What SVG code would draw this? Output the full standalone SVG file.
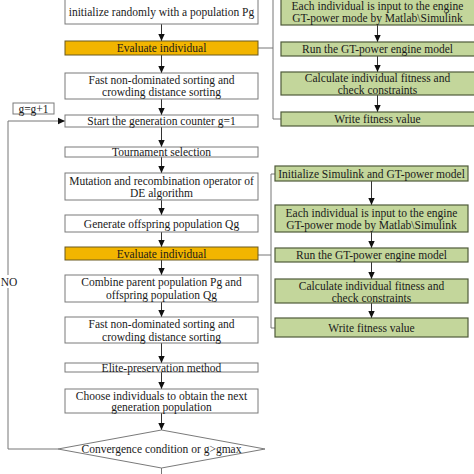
<svg xmlns="http://www.w3.org/2000/svg" width="474" height="474" viewBox="0 0 474 474">
  <style>
    .box { fill: #ffffff; stroke: #7a7a7a; stroke-width: 1; }
    .eval { fill: #f2b500; stroke: #6a5a20; stroke-width: 1; }
    .sub { fill: #c3d69b; stroke: #4f5a3a; stroke-width: 1.2; }
    text { font-family: "Liberation Serif", "Times New Roman", serif; font-size: 11.5px; fill: #1a1a1a; text-anchor: middle; dominant-baseline: central; }
    .line { stroke: #333; stroke-width: 1; fill: none; }
    .thin { stroke: #777; stroke-width: 1; fill: none; }
  </style>
  <defs>
    <marker id="arr" markerWidth="8" markerHeight="8" refX="7" refY="4" orient="auto" markerUnits="userSpaceOnUse">
      <path d="M0,0.8 L7,4 L0,7.2 Z" fill="#111"/>
    </marker>
  </defs>
  <rect width="474" height="474" fill="#ffffff"/>

  <!-- connectors -->
  <g id="connectors">
    <!-- main column -->
    <line class="line" x1="161.5" y1="24" x2="161.5" y2="41" marker-end="url(#arr)"/>
    <line class="line" x1="161.5" y1="55" x2="161.5" y2="73" marker-end="url(#arr)"/>
    <line class="line" x1="161.5" y1="99" x2="161.5" y2="115" marker-end="url(#arr)"/>
    <line class="line" x1="161.5" y1="127" x2="161.5" y2="147" marker-end="url(#arr)"/>
    <line class="line" x1="161.5" y1="157" x2="161.5" y2="173" marker-end="url(#arr)"/>
    <line class="line" x1="161.5" y1="200" x2="161.5" y2="215" marker-end="url(#arr)"/>
    <line class="line" x1="161.5" y1="232" x2="161.5" y2="247" marker-end="url(#arr)"/>
    <line class="line" x1="161.5" y1="260" x2="161.5" y2="275" marker-end="url(#arr)"/>
    <line class="line" x1="161.5" y1="302" x2="161.5" y2="317" marker-end="url(#arr)"/>
    <line class="line" x1="161.5" y1="343" x2="161.5" y2="363" marker-end="url(#arr)"/>
    <line class="line" x1="161.5" y1="372" x2="161.5" y2="389" marker-end="url(#arr)"/>
    <line class="line" x1="161.5" y1="413" x2="161.5" y2="430" marker-end="url(#arr)"/>
    <line class="thin" x1="161.5" y1="468" x2="161.5" y2="474"/>
    <!-- NO feedback loop -->
    <polyline class="thin" points="58,449 8,449 8,288"/>
    <polyline class="thin" points="8,275 8,121 65,121" marker-end="url(#arr)"/>
    <!-- upper evaluation bracket -->
    <polyline class="thin" points="258,48 273,48"/>
    <polyline class="thin" points="281,-1 273,-1 273,119 281,119"/>
    <!-- lower evaluation bracket -->
    <polyline class="thin" points="258,255 271,255"/>
    <polyline class="thin" points="275,174 271,174 271,328 275,328"/>
    <!-- upper sub-process -->
    <line class="line" x1="377.5" y1="25" x2="377.5" y2="42" marker-end="url(#arr)"/>
    <line class="line" x1="377.5" y1="56" x2="377.5" y2="72" marker-end="url(#arr)"/>
    <line class="line" x1="377.5" y1="95" x2="377.5" y2="112" marker-end="url(#arr)"/>
    <!-- lower sub-process -->
    <line class="line" x1="371.5" y1="181" x2="371.5" y2="205" marker-end="url(#arr)"/>
    <line class="line" x1="371.5" y1="232" x2="371.5" y2="248" marker-end="url(#arr)"/>
    <line class="line" x1="371.5" y1="262" x2="371.5" y2="279" marker-end="url(#arr)"/>
    <line class="line" x1="371.5" y1="303" x2="371.5" y2="318" marker-end="url(#arr)"/>
  </g>

  <!-- main column nodes -->
  <g id="init">
    <rect class="box" x="65" y="-2" width="193" height="26"/>
    <text x="161.5" y="12">initialize randomly with a population Pg</text>
  </g>
  <g id="eval1">
    <rect class="eval" x="65" y="41" width="193" height="14"/>
    <text x="161.5" y="48">Evaluate individual</text>
  </g>
  <g id="sort1">
    <rect class="box" x="65" y="73" width="193" height="26"/>
    <text x="161.5" y="80">Fast non-dominated sorting  and</text>
    <text x="161.5" y="92">crowding distance sorting</text>
  </g>
  <g id="inc">
    <rect class="box" x="13" y="103" width="41" height="11"/>
    <text x="33.5" y="108.5">g=g+1</text>
  </g>
  <g id="counter">
    <rect class="box" x="65" y="115" width="193" height="12"/>
    <text x="161.5" y="121">Start the generation counter g=1</text>
  </g>
  <g id="tournament">
    <rect class="box" x="65" y="147" width="193" height="10"/>
    <text x="161.5" y="152">Tournament selection</text>
  </g>
  <g id="mutation">
    <rect class="box" x="65" y="173" width="193" height="27"/>
    <text x="161.5" y="180.5">Mutation and recombination operator of</text>
    <text x="161.5" y="193">DE algorithm</text>
  </g>
  <g id="offspring">
    <rect class="box" x="65" y="215" width="193" height="17"/>
    <text x="161.5" y="223.5">Generate offspring population Qg</text>
  </g>
  <g id="eval2">
    <rect class="eval" x="65" y="247" width="193" height="13"/>
    <text x="161.5" y="253.5">Evaluate individual</text>
  </g>
  <g id="combine">
    <rect class="box" x="65" y="275" width="193" height="27"/>
    <text x="161.5" y="282">Combine parent population  Pg and</text>
    <text x="161.5" y="295">offspring population Qg</text>
  </g>
  <g id="sort2">
    <rect class="box" x="65" y="317" width="193" height="26"/>
    <text x="161.5" y="324">Fast non-dominated sorting and</text>
    <text x="161.5" y="336.5">crowding distance sorting</text>
  </g>
  <g id="elite">
    <rect class="box" x="65" y="363" width="193" height="9"/>
    <text x="161.5" y="367.5">Elite-preservation method</text>
  </g>
  <g id="choose">
    <rect class="box" x="65" y="389" width="193" height="24"/>
    <text x="161.5" y="395.5">Choose individuals to obtain the next</text>
    <text x="161.5" y="407">generation population</text>
  </g>
  <g id="converge">
    <polygon class="box" points="161.5,430 265,449 161.5,468 58,449"/>
    <text x="161.5" y="449">Convergence condition or g&gt;gmax</text>
  </g>
  <g id="no-label">
    <text x="9" y="281.5">NO</text>
  </g>

  <!-- upper sub-process nodes -->
  <g id="u-input">
    <rect class="sub" x="281" y="-2" width="194" height="27"/>
    <text x="377.5" y="5.5">Each individual is input to the  engine</text>
    <text x="377.5" y="18">GT-power mode by Matlab\Simulink</text>
  </g>
  <g id="u-run">
    <rect class="sub" x="281" y="42" width="194" height="14"/>
    <text x="377.5" y="49">Run the GT-power engine model</text>
  </g>
  <g id="u-calc">
    <rect class="sub" x="281" y="72" width="194" height="23"/>
    <text x="377.5" y="78">Calculate individual fitness and</text>
    <text x="377.5" y="90">check constraints</text>
  </g>
  <g id="u-write">
    <rect class="sub" x="281" y="112" width="194" height="14"/>
    <text x="377.5" y="119">Write fitness value</text>
  </g>

  <!-- lower sub-process nodes -->
  <g id="l-init">
    <rect class="sub" x="275" y="166" width="193" height="15"/>
    <text x="371.5" y="173.5">Initialize Simulink and GT-power model</text>
  </g>
  <g id="l-input">
    <rect class="sub" x="275" y="205" width="193" height="27"/>
    <text x="371.5" y="212.5">Each individual is input to the  engine</text>
    <text x="371.5" y="225">GT-power mode by Matlab\Simulink</text>
  </g>
  <g id="l-run">
    <rect class="sub" x="275" y="248" width="193" height="14"/>
    <text x="371.5" y="255">Run the GT-power engine model</text>
  </g>
  <g id="l-calc">
    <rect class="sub" x="275" y="279" width="193" height="24"/>
    <text x="371.5" y="285.5">Calculate individual fitness and</text>
    <text x="371.5" y="297.5">check constraints</text>
  </g>
  <g id="l-write">
    <rect class="sub" x="275" y="318" width="193" height="19"/>
    <text x="371.5" y="327.5">Write fitness value</text>
  </g>
</svg>
